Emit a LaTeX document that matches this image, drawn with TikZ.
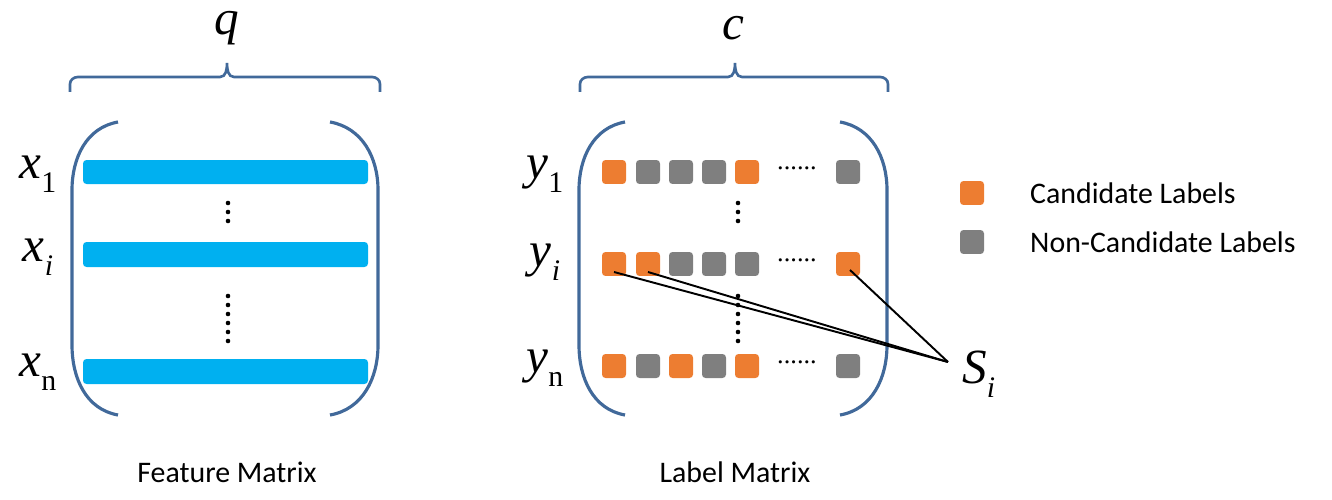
\documentclass[tikz,border=0pt]{standalone}
\usepackage{fontspec}
\setmainfont{Liberation Serif}
\newfontfamily\calfont{Carlito}
\definecolor{bar}{HTML}{00B0F0}
\definecolor{org}{HTML}{ED7D31}
\definecolor{gry}{HTML}{7F7F7F}
\definecolor{par}{HTML}{41699A}
\begin{document}
\begin{tikzpicture}[x=0.02cm,y=-0.02cm,
  paren/.style={draw=par,line width=1.8pt},
  brace/.style={draw=par,line width=1.5pt},
  bar/.style={fill=bar,rounded corners=2pt},
  sq/.style={minimum size=0.48cm,inner sep=0,rounded corners=2pt},
  O/.style={sq,fill=org}, G/.style={sq,fill=gry},
  var/.style={font=\fontsize{28}{28}\selectfont\itshape,inner sep=0},
  lab/.style={font=\calfont\fontsize{17}{20}\selectfont},
  vdot/.style={fill=black,circle,inner sep=0,minimum size=2.6pt}]
\useasboundingbox (0,0) rectangle (1332,500);
% braces
\draw[brace] (70,92) -- (70,84) to[out=90,in=180] (78,77) -- (220,77) to[out=0,in=-90] (227,63) to[out=-90,in=180] (234,77) -- (372,77) to[out=0,in=90] (380,84) -- (380,92);
\node[var] (q) at (227,28) {q};
\draw[brace] (580,92) -- (580,84) to[out=90,in=180] (588,77) -- (728,77) to[out=0,in=-90] (735,63) to[out=-90,in=180] (742,77) -- (880,77) to[out=0,in=90] (888,84) -- (888,92);
\node[var] (c) at (733,28) {c};
% parens
\draw[paren] (118,122) to[out=190,in=90] (72,190) -- (72,345) to[out=-90,in=170] (118,415);
\draw[paren] (330,122) to[out=-10,in=90] (378,190) -- (378,345) to[out=-90,in=10] (330,415);
\draw[paren] (625,122) to[out=190,in=90] (579,190) -- (579,345) to[out=-90,in=170] (625,415);
\draw[paren] (840,122) to[out=-10,in=90] (887,190) -- (887,345) to[out=-90,in=10] (840,415);
% bars
\fill[bar] (83,160) rectangle (368,184);
\fill[bar] (83,242) rectangle (368,267);
\fill[bar] (83,359) rectangle (368,384);
\foreach \y in {203,212,221} {\node[vdot] at (228,\y) {}; \node[vdot] at (738,\y) {};}
\foreach \y in {296,305,314,323,332,341} {\node[vdot] at (228,\y) {}; \node[vdot] at (738,\y) {};}
% labels
\node[var] (x1) at (38,174) {x\raisebox{-8pt}{\upshape\fontsize{17}{17}\selectfont 1}};
\node[var] (xi) at (38,257) {x\raisebox{-8pt}{\fontsize{17}{17}\selectfont i}};
\node[var] (xn) at (38,372) {x\raisebox{-8pt}{\upshape\fontsize{17}{17}\selectfont n}};
\node[var] (y1) at (545,174) {y\raisebox{-8pt}{\upshape\fontsize{17}{17}\selectfont 1}};
\node[var] (yi) at (545,262) {y\raisebox{-8pt}{\fontsize{17}{17}\selectfont i}};
\node[var] (yn) at (545,368) {y\raisebox{-8pt}{\upshape\fontsize{17}{17}\selectfont n}};
% squares
\node[O] (a1) at (614,172) {}; \node[G] (a2) at (648,172) {}; \node[G] (a3) at (681,172) {};
\node[G] (a4) at (714,172) {}; \node[O] (a5) at (747,172) {}; \node[G] (a6) at (848,172) {};
\node[O] (b1) at (614,264) {}; \node[O] (b2) at (648,264) {}; \node[G] (b3) at (681,264) {};
\node[G] (b4) at (714,264) {}; \node[G] (b5) at (747,264) {}; \node[O] (b6) at (848,264) {};
\node[O] (c1) at (614,366) {}; \node[G] (c2) at (648,366) {}; \node[O] (c3) at (681,366) {};
\node[G] (c4) at (714,366) {}; \node[O] (c5) at (747,366) {}; \node[G] (c6) at (848,366) {};
\foreach \y in {172,264,366} \node[font=\fontsize{15}{15}\selectfont] at (797,\y-4) {......};
% S_i
\coordinate (s) at (948,362);
\node[var,anchor=west] (S) at (962,374) {S\raisebox{-8pt}{\fontsize{17}{17}\selectfont i}};
\draw[line width=1.1pt] (614,272) -- (s);
\draw[line width=1.1pt] (648,272) -- (s);
\draw[line width=1.1pt] (850,270) -- (s);
% legend
\node[O] (lo) at (972,193) {};
\node[G] (lg) at (972,242) {};
\node[lab,anchor=west] at (1024,193) {Candidate Labels};
\node[lab,anchor=west] at (1024,242) {Non-Candidate Labels};
\node[lab] (fm) at (227,472) {Feature Matrix};
\node[lab] (lm) at (735,472) {Label Matrix};
\end{tikzpicture}
\end{document}
